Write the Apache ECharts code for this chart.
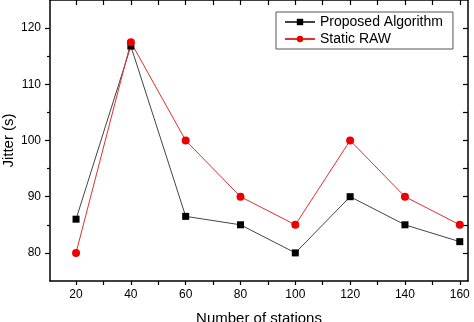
<!DOCTYPE html>
<html>
<head>
<meta charset="utf-8">
<script src="https://cdn.jsdelivr.net/npm/echarts@6/dist/echarts.min.js"></script>
<style>
  html, body { margin: 0; padding: 0; background: #fff; }
  #jitterChart { width: 474px; height: 322px; }
</style>
</head>
<body>
<div id="jitterChart"></div>
<script>
// ---- data ----
var stations = [20, 40, 60, 80, 100, 120, 140, 160];
var proposedAlgorithm = [86, 116.8, 86.5, 85, 80, 90, 85, 82];
var staticRaw = [80, 117.5, 100, 90, 85, 100, 90, 85];
var xLabels = [20, 40, 60, 80, 100, 120, 140, 160];
var xTicks = [10, 20, 30, 40, 50, 60, 70, 80, 90, 100, 110, 120, 130, 140, 150, 160];
var yLabels = [80, 90, 100, 110, 120];
var yMinorTicks = [85, 95, 105, 115];
var yAllTicks = [80, 85, 90, 95, 100, 105, 110, 115, 120];

(function(){
    var dom = document.getElementById("jitterChart");
    var chart = echarts.init(dom);
    var font = "'Liberation Sans', Arial, sans-serif";

    function pairs(xs, ys) {
        var out = [];
        for (var i = 0; i < xs.length; i++) {
            out.push([xs[i], ys[i]]);
        }
        return out;
    }

    var axisLine = { show: true, lineStyle: { color: '#000', width: 1.5 } };
    var tickLine = { color: '#000', width: 1.2 };
    var xRange = { min: 10.5, max: 163 };
    var yRange = { min: 75, max: 125 };

    var option = {
        animation: false,
        backgroundColor: '#fff',
        textStyle: { fontFamily: font },
        grid: { left: 50, right: 6, top: 0, bottom: 41, containLabel: false, outerBoundsMode: 'none' },
        legend: {
            orient: 'vertical',
            left: 276,
            top: 12,
            padding: [3, 10, 3, 8],
            itemGap: 3,
            itemWidth: 30,
            itemHeight: 8,
            borderColor: '#555',
            borderWidth: 1,
            borderRadius: 0,
            textStyle: { fontSize: 14, color: '#000', fontFamily: font },
            data: ['Proposed Algorithm', 'Static RAW']
        },
        xAxis: [{
            type: 'value',
            position: 'bottom',
            min: xRange.min, max: xRange.max,
            name: 'Number of stations',
            nameLocation: 'middle',
            nameGap: 30,
            nameMoveOverlap: false,
            nameTextStyle: { fontSize: 15, color: '#000', fontFamily: font },
            axisLine: axisLine,
            axisTick: { show: true, inside: false, length: 4, customValues: xTicks, lineStyle: tickLine },
            axisLabel: { customValues: xLabels, fontSize: 12, color: '#000', margin: 8, fontFamily: font },
            splitLine: { show: false }
        }, {
            type: 'value',
            position: 'top',
            min: xRange.min, max: xRange.max,
            axisLine: axisLine,
            axisTick: { show: true, inside: true, length: 5, customValues: xTicks, lineStyle: tickLine },
            axisLabel: { show: false },
            splitLine: { show: false }
        }],
        yAxis: [{
            type: 'value',
            position: 'left',
            min: yRange.min, max: yRange.max,
            name: 'Jitter (s)',
            nameLocation: 'middle',
            nameRotate: 90,
            nameGap: 34,
            nameMoveOverlap: false,
            nameTextStyle: { fontSize: 15, color: '#000', fontFamily: font },
            axisLine: axisLine,
            axisTick: { show: true, inside: false, length: 5, customValues: yLabels, lineStyle: tickLine },
            axisLabel: { customValues: yLabels, fontSize: 12, color: '#000', margin: 9, fontFamily: font },
            splitLine: { show: false }
        }, {
            type: 'value',
            position: 'left',
            offset: 0,
            min: yRange.min, max: yRange.max,
            axisLine: { show: false },
            axisTick: { show: true, inside: false, length: 3, customValues: yMinorTicks, lineStyle: tickLine },
            axisLabel: { show: false },
            splitLine: { show: false }
        }, {
            type: 'value',
            position: 'right',
            min: yRange.min, max: yRange.max,
            axisLine: axisLine,
            axisTick: { show: true, inside: true, length: 5, customValues: yAllTicks, lineStyle: tickLine },
            axisLabel: { show: false },
            splitLine: { show: false }
        }],
        series: [{
            name: 'Proposed Algorithm',
            type: 'line',
            xAxisIndex: 0,
            yAxisIndex: 0,
            symbol: 'rect',
            symbolSize: 7,
            itemStyle: { color: '#000' },
            lineStyle: { color: '#444', width: 1 },
            data: pairs(stations, proposedAlgorithm)
        }, {
            name: 'Static RAW',
            type: 'line',
            xAxisIndex: 0,
            yAxisIndex: 0,
            symbol: 'circle',
            symbolSize: 8,
            itemStyle: { color: '#ee0000' },
            lineStyle: { color: '#e03030', width: 1 },
            data: pairs(stations, staticRaw)
        }]
    };
    chart.setOption(option, true);
})();
</script>
</body>
</html>
